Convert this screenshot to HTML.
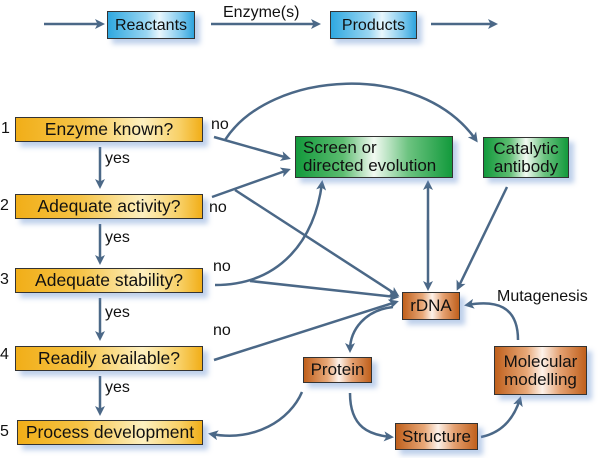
<!DOCTYPE html>
<html><head><meta charset="utf-8"><style>
html,body{margin:0;padding:0;background:#fff;}
body{width:600px;height:458px;position:relative;overflow:hidden;font-family:"Liberation Sans",sans-serif;color:#111;}
.b{position:absolute;box-sizing:border-box;border:1.5px solid #333;box-shadow:5px 5px 5px rgba(110,150,210,0.45);display:flex;align-items:center;justify-content:center;text-align:center;font-size:16px;line-height:17px;white-space:nowrap;}
.blue{background:linear-gradient(90deg,#2fa8e0 0%,#9ad6f2 45%,#e9f7fd 60%,#7cc8ee 85%,#2fa3dc 100%);}
.y{background:linear-gradient(90deg,#f1ae18 0%,#f6c448 35%,#fdf0c0 68%,#f8d066 88%,#f1ae18 100%);font-size:17.5px;}
.g{background:linear-gradient(90deg,#139a3c 0%,#5cbc70 30%,#f2faf2 50%,#6cc380 72%,#139a3c 100%);font-size:17px;line-height:18px;}
.o{background:linear-gradient(90deg,#c0601c 0%,#e8a878 35%,#fdf2ea 52%,#e4a070 72%,#c0601c 100%);font-size:17px;line-height:18px;}
.t{position:absolute;font-size:16px;}
</style></head><body>
<svg width="600" height="458" style="position:absolute;left:0;top:0" fill="none" stroke="#4b6887" stroke-width="2.5">
<defs><marker id="a" markerWidth="10" markerHeight="10" refX="7" refY="5" orient="auto" markerUnits="userSpaceOnUse"><path d="M0,0 L10,5 L0,10 L2.5,5z" fill="#4b6887" stroke="none"/></marker></defs>
<g marker-end="url(#a)">
<line x1="44" y1="24" x2="102" y2="24"/>
<line x1="211" y1="24" x2="318" y2="24"/>
<line x1="431" y1="24" x2="495" y2="24"/>
<line x1="100" y1="147" x2="100" y2="186"/>
<line x1="100" y1="224" x2="100" y2="262"/>
<line x1="100" y1="298" x2="100" y2="338"/>
<line x1="100" y1="376" x2="100" y2="413"/>
<line x1="214" y1="137" x2="288" y2="158"/>
<path d="M225,140 C270,70 420,60 476,140"/>
<line x1="212" y1="197" x2="288" y2="170"/>
<line x1="235" y1="190" x2="397" y2="295"/>
<path d="M215,285 C280,285 315,240 322,183"/>
<line x1="250" y1="281" x2="396" y2="297"/>
<line x1="214" y1="360" x2="396" y2="302"/>
<line x1="428" y1="250" x2="428" y2="183"/>
<line x1="428" y1="220" x2="428" y2="288"/>
<line x1="507" y1="187" x2="458" y2="288"/>
<path d="M393,307 C365,310 350,330 350,350"/>
<path d="M350,393 C350,428 370,435 391,437"/>
<path d="M481,437 C505,432 515,415 520,399"/>
<path d="M518,340 C518,305 495,300 467,305"/>
<path d="M302,392 C290,420 255,442 211,434"/>
</g>
</svg>
<div class="b blue" style="left:107px;top:11px;width:88px;height:28px">Reactants</div>
<div class="b blue" style="left:330px;top:11px;width:87px;height:28px">Products</div>
<div class="t" style="left:223px;top:4px">Enzyme(s)</div>

<div class="b y" style="left:15px;top:117px;width:188px;height:25px">Enzyme known?</div>
<div class="b y" style="left:15px;top:194px;width:188px;height:25px">Adequate activity?</div>
<div class="b y" style="left:15px;top:268px;width:188px;height:25px">Adequate stability?</div>
<div class="b y" style="left:15px;top:346px;width:188px;height:25px">Readily available?</div>
<div class="b y" style="left:17px;top:420px;width:186px;height:25px">Process development</div>
<div class="t" style="left:1px;top:120px">1</div>
<div class="t" style="left:0px;top:197px">2</div>
<div class="t" style="left:0px;top:271px">3</div>
<div class="t" style="left:0px;top:346px">4</div>
<div class="t" style="left:0px;top:423px">5</div>
<div class="t" style="left:105px;top:150px">yes</div>
<div class="t" style="left:105px;top:229px">yes</div>
<div class="t" style="left:105px;top:304px">yes</div>
<div class="t" style="left:105px;top:379px">yes</div>
<div class="t" style="left:211px;top:116px">no</div>
<div class="t" style="left:209px;top:199px">no</div>
<div class="t" style="left:213px;top:258px">no</div>
<div class="t" style="left:213px;top:322px">no</div>

<div class="b g" style="left:295px;top:136px;width:158px;height:42px;justify-content:flex-start;text-align:left;padding-left:7px">Screen or<br>directed evolution</div>
<div class="b g" style="left:483px;top:137px;width:86px;height:41px">Catalytic<br>antibody</div>
<div class="b o" style="left:402px;top:292px;width:58px;height:28px">rDNA</div>
<div class="b o" style="left:303px;top:357px;width:69px;height:26px">Protein</div>
<div class="b o" style="left:494px;top:346px;width:93px;height:49px">Molecular<br>modelling</div>
<div class="b o" style="left:395px;top:423px;width:83px;height:27px">Structure</div>
<div class="t" style="left:497px;top:288px">Mutagenesis</div>
</body></html>
